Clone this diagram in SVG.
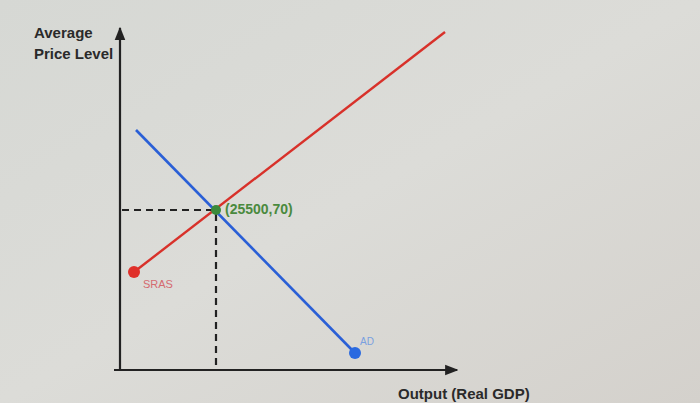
<svg xmlns="http://www.w3.org/2000/svg" width="700" height="403" viewBox="0 0 700 403">
<defs>
<linearGradient id="bg" x1="0" y1="0" x2="1" y2="1">
<stop offset="0" stop-color="#d6d8d4"/>
<stop offset="0.5" stop-color="#dcdcd8"/>
<stop offset="1" stop-color="#d4d1cc"/>
</linearGradient>
<marker id="arr" viewBox="0 0 10 10" refX="9" refY="5" markerWidth="6" markerHeight="6" markerUnits="strokeWidth" orient="auto">
<path d="M0,1 L10,5 L0,9 z" fill="#222"/>
</marker>
<style>
.axis{stroke:#222;stroke-width:2.2;fill:none}
.dash{stroke:#222;stroke-width:2.2;stroke-dasharray:7,5;fill:none}
.lbl{font-family:"Liberation Sans",Arial,sans-serif;font-weight:bold;font-size:15px;fill:#2a2a2a}
</style>
</defs>
<rect width="700" height="403" fill="url(#bg)"/>
<g id="connectors">
<line class="axis" x1="120" y1="371" x2="120" y2="28" marker-end="url(#arr)"/>
<line class="axis" x1="114" y1="370" x2="457" y2="370" marker-end="url(#arr)"/>
<line class="dash" x1="122" y1="210" x2="214" y2="210"/>
<line class="dash" x1="216" y1="214" x2="216" y2="370" stroke-dasharray="6,6"/>
<line id="sras-line" x1="134" y1="272" x2="445" y2="32" stroke="#d8312a" stroke-width="2.4"/>
<line id="ad-line" x1="136" y1="130" x2="355" y2="353" stroke="#2a5fd6" stroke-width="2.6"/>
</g>
<g id="y-label">
<text class="lbl" x="34" y="38">Average</text>
<text class="lbl" x="34" y="59">Price Level</text>
</g>
<g id="x-label"><text class="lbl" x="398" y="399">Output (Real GDP)</text></g>
<g id="sras">
<circle cx="134" cy="272" r="6" fill="#e0302a"/>
<text x="143" y="288" font-family="Liberation Sans,Arial,sans-serif" font-size="11" fill="#d56a70">SRAS</text>
</g>
<g id="ad">
<circle cx="355" cy="353" r="6" fill="#2a6ae0"/>
<text x="360" y="345" font-family="Liberation Sans,Arial,sans-serif" font-size="10" fill="#7aa0e0">AD</text>
</g>
<g id="equilibrium">
<circle cx="216" cy="210" r="5" fill="#3a8a3a"/>
<text x="225" y="214" font-family="Liberation Sans,Arial,sans-serif" font-weight="bold" font-size="14" fill="#4a8a3e">(25500,70)</text>
</g>
</svg>
